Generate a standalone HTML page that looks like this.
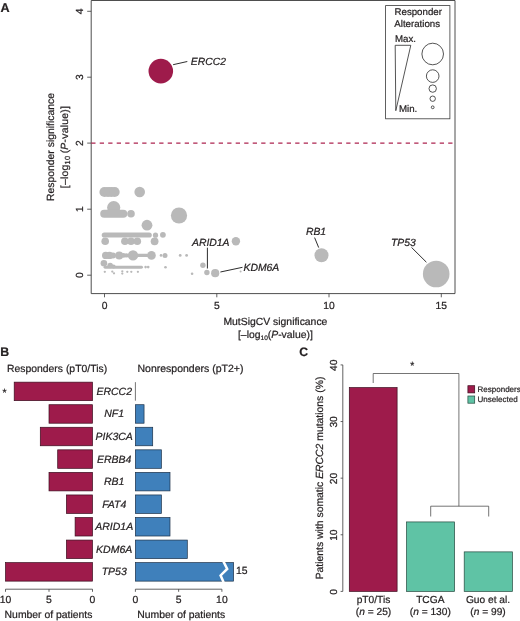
<!DOCTYPE html>
<html lang="en"><head><meta charset="utf-8"><title>Figure</title>
<style>html,body{margin:0;padding:0;background:#fff}body{width:520px;height:621px;overflow:hidden}svg{display:block}text{text-rendering:geometricPrecision;font-family:"Liberation Sans",Arial,Helvetica,sans-serif;fill:#231f20;stroke:#231f20;stroke-width:0.22px}.i{font-style:italic}.b{font-weight:bold}</style>
</head><body>
<svg width="520" height="621" viewBox="0 0 520 621">
<rect width="520" height="621" fill="#fff"/>
<g id="panelA">
<text class="b" x="0.5" y="11.5" font-size="12.6">A</text>
<path d="M91.2,0.5 H455.0 V293.6 H91.2 Z" fill="none" stroke="#3a3a3a" stroke-width="0.9"/>
<line x1="87.2" y1="275.2" x2="91.2" y2="275.2" stroke="#3a3a3a" stroke-width="0.8"/>
<text x="83.4" y="275.2" font-size="10.3" text-anchor="middle" transform="rotate(-90 83.4 275.2)">0</text>
<line x1="87.2" y1="209.2" x2="91.2" y2="209.2" stroke="#3a3a3a" stroke-width="0.8"/>
<text x="83.4" y="209.2" font-size="10.3" text-anchor="middle" transform="rotate(-90 83.4 209.2)">1</text>
<line x1="87.2" y1="143.1" x2="91.2" y2="143.1" stroke="#3a3a3a" stroke-width="0.8"/>
<text x="83.4" y="143.1" font-size="10.3" text-anchor="middle" transform="rotate(-90 83.4 143.1)">2</text>
<line x1="87.2" y1="77.2" x2="91.2" y2="77.2" stroke="#3a3a3a" stroke-width="0.8"/>
<text x="83.4" y="77.2" font-size="10.3" text-anchor="middle" transform="rotate(-90 83.4 77.2)">3</text>
<line x1="87.2" y1="11.3" x2="91.2" y2="11.3" stroke="#3a3a3a" stroke-width="0.8"/>
<text x="83.4" y="11.3" font-size="10.3" text-anchor="middle" transform="rotate(-90 83.4 11.3)">4</text>
<line x1="104.5" y1="293.6" x2="104.5" y2="297.3" stroke="#3a3a3a" stroke-width="0.8"/>
<text x="104.5" y="308.8" font-size="10.3" text-anchor="middle">0</text>
<line x1="216.8" y1="293.6" x2="216.8" y2="297.3" stroke="#3a3a3a" stroke-width="0.8"/>
<text x="216.8" y="308.8" font-size="10.3" text-anchor="middle">5</text>
<line x1="329.0" y1="293.6" x2="329.0" y2="297.3" stroke="#3a3a3a" stroke-width="0.8"/>
<text x="329.0" y="308.8" font-size="10.3" text-anchor="middle">10</text>
<line x1="441.3" y1="293.6" x2="441.3" y2="297.3" stroke="#3a3a3a" stroke-width="0.8"/>
<text x="441.3" y="308.8" font-size="10.3" text-anchor="middle">15</text>
<text x="275.4" y="325" font-size="10.4" text-anchor="middle">MutSigCV significance</text>
<text x="275.4" y="337.5" font-size="10.4" text-anchor="middle">[–log<tspan font-size="6.5" dy="2">10</tspan><tspan dy="-2">(</tspan><tspan class="i">P</tspan>-value)]</text>
<text font-size="10.4" text-anchor="middle" transform="translate(54.4 147) rotate(-90)">Responder significance</text>
<text font-size="10.4" text-anchor="middle" transform="translate(67.6 147) rotate(-90)" letter-spacing="0.25">[–log<tspan font-size="7.4" dy="2">10 </tspan><tspan dy="-2">(</tspan><tspan class="i">P</tspan>-value)]</text>
<line x1="91.2" y1="143.1" x2="455.0" y2="143.1" stroke="#ad2550" stroke-width="1.15" stroke-dasharray="4.3 4.2"/>
<g fill="#b9b9b9">
<circle cx="104.5" cy="192" r="5.1"/>
<circle cx="108" cy="192" r="5.1"/>
<circle cx="111.2" cy="192" r="5.1"/>
<circle cx="114.6" cy="192" r="5.1"/>
<circle cx="139.7" cy="192" r="5.3"/>
<circle cx="113.7" cy="207.6" r="6.6"/>
<circle cx="131" cy="213.8" r="3.8"/>
<circle cx="179" cy="215.5" r="8.1"/>
<circle cx="147" cy="225.2" r="5.4"/>
<circle cx="155.5" cy="235.2" r="2.6"/>
<circle cx="162.9" cy="234.8" r="2.9"/>
<circle cx="105.2" cy="241.3" r="3.8"/>
<circle cx="124.9" cy="241.3" r="3.8"/>
<circle cx="131" cy="241.3" r="3.8"/>
<circle cx="137.3" cy="241.3" r="3.8"/>
<circle cx="154.6" cy="241.3" r="3.9"/>
<circle cx="235.9" cy="241.2" r="4.2"/>
<circle cx="105.7" cy="255.4" r="3.7"/>
<circle cx="109.5" cy="255.4" r="3.7"/>
<circle cx="113" cy="255.4" r="3.0"/>
<circle cx="119.2" cy="255.4" r="4.0"/>
<circle cx="123.5" cy="255.4" r="2.4"/>
<circle cx="126.5" cy="255.4" r="2.2"/>
<circle cx="133" cy="255.4" r="5.2"/>
<circle cx="151.5" cy="255.4" r="4.3"/>
<circle cx="161" cy="255.4" r="1.3"/>
<circle cx="165" cy="255.4" r="2.5"/>
<circle cx="180.2" cy="255.4" r="1.4"/>
<circle cx="186.6" cy="255.4" r="1.4"/>
<circle cx="103.9" cy="263.3" r="3.3"/>
<circle cx="110.2" cy="265.5" r="2.8"/>
<circle cx="113.6" cy="266.6" r="2.0"/>
<circle cx="145.6" cy="267.1" r="1.3"/>
<circle cx="148.2" cy="267.1" r="1.3"/>
<circle cx="165.5" cy="267.2" r="1.3"/>
<circle cx="104.8" cy="271.8" r="1.15"/>
<circle cx="112.3" cy="271.6" r="1.15"/>
<circle cx="114" cy="273.3" r="1.15"/>
<circle cx="122.3" cy="271.3" r="1.15"/>
<circle cx="122.3" cy="273.6" r="1.15"/>
<circle cx="127.3" cy="271.8" r="1.15"/>
<circle cx="131.3" cy="271.8" r="1.15"/>
<circle cx="137.9" cy="271.8" r="1.15"/>
<circle cx="192.1" cy="273.8" r="1.3"/>
<circle cx="202.9" cy="265.2" r="2.7"/>
<circle cx="206.9" cy="272.5" r="2.7"/>
<circle cx="215.2" cy="273.2" r="4.1"/>
<circle cx="240.6" cy="271.4" r="1.0"/>
<circle cx="321.5" cy="255.3" r="7.0"/>
<circle cx="436.2" cy="274" r="13.3"/>
<line x1="104.2" y1="213.8" x2="123.3" y2="213.8" stroke="#b9b9b9" stroke-width="8.00" stroke-linecap="round"/>
<line x1="104.3" y1="235" x2="149.2" y2="235" stroke="#b9b9b9" stroke-width="5.20" stroke-linecap="round"/>
<line x1="138" y1="255.4" x2="148" y2="255.4" stroke="#b9b9b9" stroke-width="3.40" stroke-linecap="round"/>
<line x1="105" y1="267.2" x2="141.5" y2="267.2" stroke="#b9b9b9" stroke-width="2.90" stroke-linecap="round"/>
</g>
<circle cx="160.8" cy="71.1" r="12.3" fill="#9e1b4b"/>
<line x1="173.1" y1="64.7" x2="187.3" y2="61.5" stroke="#222" stroke-width="0.95"/>
<text class="i" x="190.8" y="65.2" font-size="10.4">ERCC2</text>
<line x1="207.4" y1="247.7" x2="207.4" y2="268.5" stroke="#222" stroke-width="0.95"/>
<text class="i" x="192" y="245.5" font-size="10.4">ARID1A</text>
<line x1="220.4" y1="272" x2="242.5" y2="267.3" stroke="#222" stroke-width="0.95"/>
<text class="i" x="243.5" y="270.8" font-size="10.4">KDM6A</text>
<line x1="314.6" y1="237.6" x2="318.7" y2="247.6" stroke="#222" stroke-width="0.95"/>
<text class="i" x="305.9" y="234.6" font-size="10.4">RB1</text>
<line x1="411.5" y1="247.4" x2="426.4" y2="262.2" stroke="#222" stroke-width="0.95"/>
<text class="i" x="391" y="246" font-size="10.4">TP53</text>
<rect x="385.6" y="5.6" width="64.3" height="113.2" fill="#fff" stroke="#3a3a3a" stroke-width="0.8"/>
<text x="394.5" y="15.2" font-size="9.7">Responder</text>
<text x="394.3" y="26.7" font-size="9.7">Alterations</text>
<text x="395" y="42" font-size="9.7">Max.</text>
<text x="399" y="112.2" font-size="9.7">Min.</text>
<path d="M395.2,45.3 H410.8 L395.8,110.7 Z" fill="none" stroke="#2a2a2a" stroke-width="0.8"/>
<circle cx="432.7" cy="54" r="10.8" fill="#fff" stroke="#2a2a2a" stroke-width="0.8"/>
<circle cx="432.7" cy="76.1" r="6.3" fill="#fff" stroke="#2a2a2a" stroke-width="0.8"/>
<circle cx="432.7" cy="88.6" r="3.7" fill="#fff" stroke="#2a2a2a" stroke-width="0.8"/>
<circle cx="432.7" cy="98.7" r="2.7" fill="#fff" stroke="#2a2a2a" stroke-width="0.8"/>
<circle cx="432.7" cy="107.3" r="1.4" fill="#fff" stroke="#2a2a2a" stroke-width="0.8"/>
</g>
<g id="panelB">
<text class="b" x="0.2" y="355.9" font-size="12.3">B</text>
<text x="7" y="371.6" font-size="10.4">Responders (pT0/Tis)</text>
<text x="137.5" y="371.6" font-size="10.5">Nonresponders (pT2+)</text>
<text x="4.4" y="396.3" font-size="10.4" text-anchor="middle">*</text>
<rect x="14.20" y="382.15" width="78.30" height="18.5" fill="#9e1b4b" stroke="#3a0d1e" stroke-width="0.7"/>
<line x1="135.4" y1="382.15" x2="135.4" y2="400.65" stroke="#3a3a3a" stroke-width="0.7"/>
<text class="i" x="114.2" y="394.85" font-size="10.5" text-anchor="middle">ERCC2</text>
<rect x="49.00" y="404.71" width="43.50" height="18.5" fill="#9e1b4b" stroke="#3a0d1e" stroke-width="0.7"/>
<rect x="135.4" y="404.71" width="8.65" height="18.5" fill="#3f80bb" stroke="#1b3048" stroke-width="0.7"/>
<text class="i" x="114.2" y="417.41" font-size="10.5" text-anchor="middle">NF1</text>
<rect x="40.30" y="427.27" width="52.20" height="18.5" fill="#9e1b4b" stroke="#3a0d1e" stroke-width="0.7"/>
<rect x="135.4" y="427.27" width="17.30" height="18.5" fill="#3f80bb" stroke="#1b3048" stroke-width="0.7"/>
<text class="i" x="114.2" y="439.97" font-size="10.5" text-anchor="middle">PIK3CA</text>
<rect x="57.70" y="449.83" width="34.80" height="18.5" fill="#9e1b4b" stroke="#3a0d1e" stroke-width="0.7"/>
<rect x="135.4" y="449.83" width="25.95" height="18.5" fill="#3f80bb" stroke="#1b3048" stroke-width="0.7"/>
<text class="i" x="114.2" y="462.53" font-size="10.5" text-anchor="middle">ERBB4</text>
<rect x="49.00" y="472.39" width="43.50" height="18.5" fill="#9e1b4b" stroke="#3a0d1e" stroke-width="0.7"/>
<rect x="135.4" y="472.39" width="34.60" height="18.5" fill="#3f80bb" stroke="#1b3048" stroke-width="0.7"/>
<text class="i" x="114.2" y="485.09" font-size="10.5" text-anchor="middle">RB1</text>
<rect x="66.40" y="494.95" width="26.10" height="18.5" fill="#9e1b4b" stroke="#3a0d1e" stroke-width="0.7"/>
<rect x="135.4" y="494.95" width="25.95" height="18.5" fill="#3f80bb" stroke="#1b3048" stroke-width="0.7"/>
<text class="i" x="114.2" y="507.65" font-size="10.5" text-anchor="middle">FAT4</text>
<rect x="75.10" y="517.51" width="17.40" height="18.5" fill="#9e1b4b" stroke="#3a0d1e" stroke-width="0.7"/>
<rect x="135.4" y="517.51" width="34.60" height="18.5" fill="#3f80bb" stroke="#1b3048" stroke-width="0.7"/>
<text class="i" x="114.2" y="530.21" font-size="10.5" text-anchor="middle">ARID1A</text>
<rect x="66.40" y="540.07" width="26.10" height="18.5" fill="#9e1b4b" stroke="#3a0d1e" stroke-width="0.7"/>
<rect x="135.4" y="540.07" width="51.90" height="18.5" fill="#3f80bb" stroke="#1b3048" stroke-width="0.7"/>
<text class="i" x="114.2" y="552.77" font-size="10.5" text-anchor="middle">KDM6A</text>
<rect x="5.50" y="562.63" width="87.00" height="18.5" fill="#9e1b4b" stroke="#3a0d1e" stroke-width="0.7"/>
<rect x="135.4" y="562.63" width="98.18" height="18.5" fill="#3f80bb" stroke="#1b3048" stroke-width="0.7"/>
<text class="i" x="114.2" y="575.33" font-size="10.5" text-anchor="middle">TP53</text>
<path d="M223.4,561.43 L227.2,568.93 L220.6,575.43 L223.6,582.33" fill="none" stroke="#fff" stroke-width="2.5"/>
<text x="236" y="573.78" font-size="10.4">15</text>
<path d="M5.50,591.8000000000001 V589.2 H92.5 V591.8000000000001 M49.00,589.2 v2.6" fill="none" stroke="#3a3a3a" stroke-width="0.8"/>
<path d="M135.4,591.8000000000001 V589.2 H221.90 v2.6 M178.65,589.2 v2.6" fill="none" stroke="#3a3a3a" stroke-width="0.8"/>
<text x="5.50" y="603.0" font-size="10.4" text-anchor="middle">10</text>
<text x="49.00" y="603.0" font-size="10.4" text-anchor="middle">5</text>
<text x="92.50" y="603.0" font-size="10.4" text-anchor="middle">0</text>
<text x="135.40" y="603.0" font-size="10.4" text-anchor="middle">0</text>
<text x="178.65" y="603.0" font-size="10.4" text-anchor="middle">5</text>
<text x="221.90" y="603.0" font-size="10.4" text-anchor="middle">10</text>
<text x="48.5" y="617.5" font-size="10.4" text-anchor="middle">Number of patients</text>
<text x="181.2" y="617.5" font-size="10.4" text-anchor="middle">Number of patients</text>
</g>
<g id="panelC">
<text class="b" x="299.2" y="355.9" font-size="12.3">C</text>
<path d="M340.6,591.4 H342.8 V364.92 h-2.2 M342.8,534.78 h-2.2 M342.8,478.16 h-2.2 M342.8,421.54 h-2.2" fill="none" stroke="#3a3a3a" stroke-width="0.8"/>
<text font-size="10.2" text-anchor="middle" transform="translate(337.40000000000003 591.80) rotate(-90)">0</text>
<text font-size="10.2" text-anchor="middle" transform="translate(337.40000000000003 535.18) rotate(-90)">10</text>
<text font-size="10.2" text-anchor="middle" transform="translate(337.40000000000003 478.56) rotate(-90)">20</text>
<text font-size="10.2" text-anchor="middle" transform="translate(337.40000000000003 421.94) rotate(-90)">30</text>
<text font-size="10.2" text-anchor="middle" transform="translate(337.40000000000003 365.32) rotate(-90)">40</text>
<text font-size="10.4" text-anchor="middle" transform="translate(323.3 478) rotate(-90)">Patients with somatic <tspan class="i">ERCC2</tspan> mutations (%)</text>
<rect x="349.3" y="387.57" width="47.80" height="203.83" fill="#9e1b4b" stroke="#3a0d1e" stroke-width="0.7"/>
<rect x="406.5" y="521.93" width="48.10" height="69.47" fill="#5fc3a5" stroke="#25493e" stroke-width="0.7"/>
<rect x="464.2" y="551.88" width="48.20" height="39.52" fill="#5fc3a5" stroke="#25493e" stroke-width="0.7"/>
<path d="M373.2,383 V373.5 H458.9 V506.2 M430.7,516.5 V506.2 H488.7 V516.5" fill="none" stroke="#3a3a3a" stroke-width="0.7"/>
<text x="412.3" y="369" font-size="10.4" text-anchor="middle">*</text>
<rect x="467.9" y="385.7" width="6.8" height="7.2" fill="#9e1b4b" stroke="#3a0d1e" stroke-width="0.7"/>
<rect x="467.9" y="396" width="6.8" height="7.2" fill="#5fc3a5" stroke="#25493e" stroke-width="0.7"/>
<text x="477.6" y="392.3" font-size="8">Responders</text>
<text x="477.6" y="402.2" font-size="8">Unselected</text>
<text x="373.5" y="603.2" font-size="10.2" text-anchor="middle">pT0/Tis</text>
<text x="373.5" y="615.2" font-size="10.2" text-anchor="middle">(<tspan class="i">n</tspan> = 25)</text>
<text x="430.3" y="603.2" font-size="10.2" text-anchor="middle">TCGA</text>
<text x="430.3" y="615.2" font-size="10.2" text-anchor="middle">(<tspan class="i">n</tspan> = 130)</text>
<text x="488" y="603.2" font-size="10.2" text-anchor="middle">Guo et al.</text>
<text x="488" y="615.2" font-size="10.2" text-anchor="middle">(<tspan class="i">n</tspan> = 99)</text>
</g>
</svg></body></html>
